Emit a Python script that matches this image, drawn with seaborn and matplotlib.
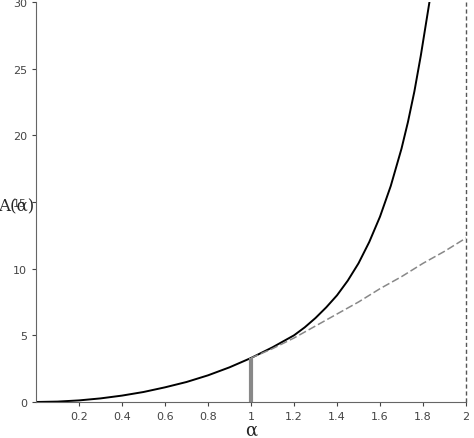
import matplotlib
matplotlib.use("Agg")
import matplotlib.pyplot as plt
import seaborn as sns
import pandas as pd

alpha_solid = [0.0, 0.1, 0.2, 0.3, 0.4, 0.5, 0.6, 0.7, 0.8, 0.9, 1.0, 1.1, 1.2, 1.25, 1.3, 1.35, 1.4, 1.45, 1.5, 1.55, 1.6, 1.65, 1.7, 1.73, 1.76, 1.79, 1.81, 1.83]
A_solid = [0.0, 0.03, 0.12, 0.27, 0.48, 0.75, 1.1, 1.5, 2.0, 2.6, 3.3, 4.1, 5.0, 5.6, 6.3, 7.1, 8.0, 9.1, 10.4, 12.0, 13.9, 16.2, 19.0, 21.0, 23.3, 26.0, 28.0, 30.0]
alpha_dash = [1.0, 1.1, 1.2, 1.3, 1.4, 1.5, 1.6, 1.7, 1.8, 1.9, 2.0]
A_dash = [3.3, 4.0, 4.8, 5.7, 6.6, 7.5, 8.5, 9.4, 10.4, 11.3, 12.3]
bar_x = [1.0]
bar_top = [3.3]

sns.set_style("ticks")
fig = plt.figure(figsize=(4.74, 4.39), dpi=100)
ax = fig.add_axes([36/474, 36/439, 430/474, 400/439])
sns.lineplot(data=pd.DataFrame({"a": alpha_solid, "A": A_solid}), x="a", y="A", ax=ax, color="black", lw=1.4)
sns.lineplot(data=pd.DataFrame({"a": alpha_dash, "A": A_dash}), x="a", y="A", ax=ax, color="#888888", lw=1.1, linestyle=(0, (5, 2)))
ax.vlines(bar_x, 0, bar_top, color="#888888", lw=3)
ax.axvline(2.0, color="#555555", lw=1, linestyle=(0, (3, 2)), clip_on=False, zorder=5)
ax.set_xlim(0, 2)
ax.set_ylim(0, 30)
ax.set_xticks([0.2, 0.4, 0.6, 0.8, 1, 1.2, 1.4, 1.6, 1.8, 2])
ax.set_xticklabels(["0.2", "0.4", "0.6", "0.8", "1", "1.2", "1.4", "1.6", "1.8", "2"])
ax.set_yticks([0, 5, 10, 15, 20, 25, 30])
ax.tick_params(labelsize=8, colors="#444444", length=3)
for s in ["top", "right"]:
    ax.spines[s].set_visible(False)
ax.spines["left"].set_color("#666666")
ax.spines["bottom"].set_color("#666666")
ax.set_xlabel("α", fontsize=13, family="DejaVu Serif", labelpad=0)
ax.set_ylabel("A(α)", fontsize=12, rotation=0, family="DejaVu Serif")
ax.yaxis.set_label_coords(-0.005, 0.47)
ax.yaxis.label.set_horizontalalignment("right")
fig.savefig("out.png", dpi=100)
